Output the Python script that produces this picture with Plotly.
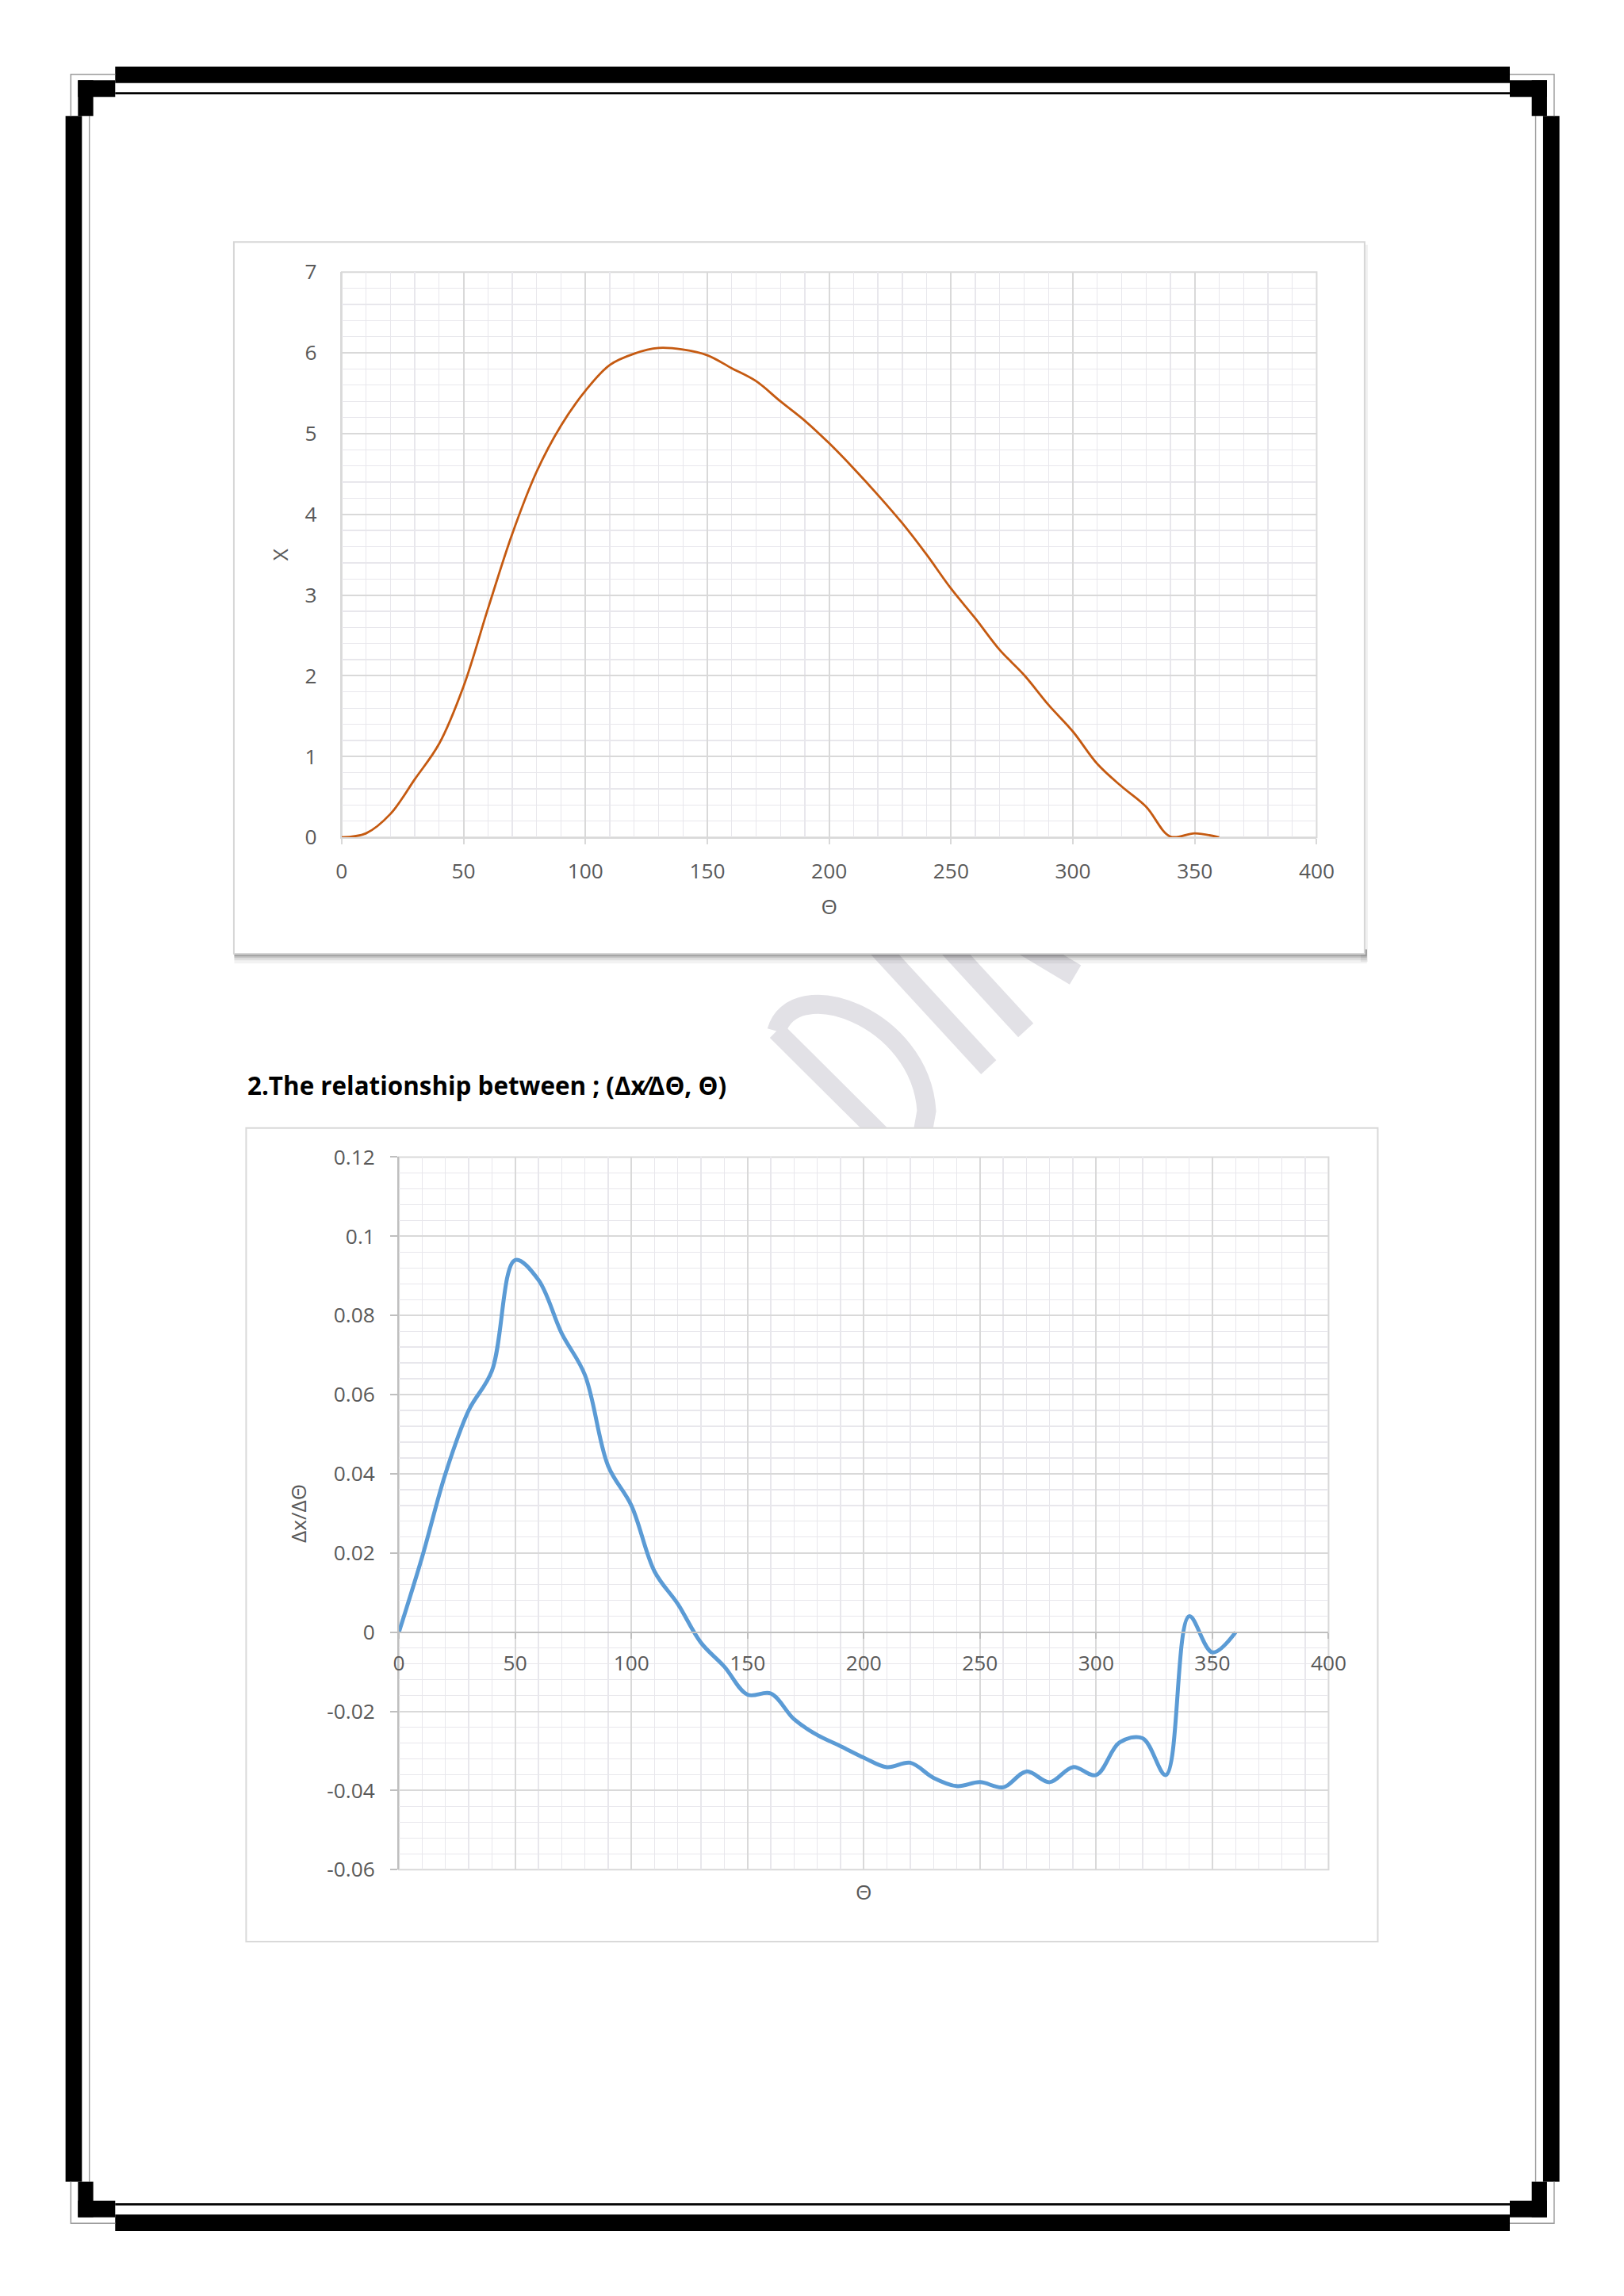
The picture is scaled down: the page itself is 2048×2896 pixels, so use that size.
import plotly.graph_objects as go

# ---------------- data ----------------
theta = [0, 10, 20, 30, 40, 50, 60, 70, 80, 90, 100, 110, 120, 130, 140, 150, 160, 170, 180,
         190, 200, 210, 220, 230, 240, 250, 260, 270, 280, 290, 300, 310, 320, 330, 340, 350, 360]

x_disp = [0, 0.05, 0.29, 0.72, 1.16, 1.87, 2.83, 3.76, 4.53, 5.10, 5.53, 5.85, 5.99, 6.06, 6.04,
          5.97, 5.81, 5.65, 5.40, 5.16, 4.88, 4.57, 4.24, 3.89, 3.50, 3.08, 2.71, 2.32, 2.01,
          1.64, 1.31, 0.91, 0.63, 0.38, 0.01, 0.05, 0.0]

dx_dtheta = [0, 0.019, 0.040, 0.056, 0.066, 0.094, 0.089, 0.0755, 0.065, 0.042, 0.032, 0.0153,
             0.0071, -0.0027, -0.0087, -0.0158, -0.0155, -0.022, -0.026, -0.0288, -0.0317,
             -0.0341, -0.033, -0.0368, -0.0389, -0.0379, -0.0392, -0.0352, -0.0379, -0.0341,
             -0.0361, -0.0279, -0.0268, -0.0361, 0.0040, -0.0051, 0.0]

x_tickvals = [0, 50, 100, 150, 200, 250, 300, 350, 400]
y1_tickvals = [0, 1, 2, 3, 4, 5, 6, 7]
y2_tickvals = [0.12, 0.1, 0.08, 0.06, 0.04, 0.02, 0, -0.02, -0.04, -0.06]
y2_ticktext = ["0.12", "0.1", "0.08", "0.06", "0.04", "0.02", "0", "-0.02", "-0.04", "-0.06"]

x_title = "Θ"
y1_title = "X"
y2_title = "Δx/ΔΘ"
heading = "2.The relationship between ; (Δx⁄ΔΘ, Θ)"

# ---------------- page geometry (pixels of the 2048x2896 page) ----------------
PAGE_W, PAGE_H = 2048, 2896
OFF = 8                      # default body margin of the page
FW, FH = PAGE_W - 2 * OFF, PAGE_H - 2 * OFF
AX, BX = 0.9858, 6.4         # measured capture mapping of the rendering pipeline
AY = 0.989
BY = (1 - AY) * PAGE_H / 2
S = 1 / 0.988                # size compensation for fonts


def fx(p):
    return ((p - BX) / AX - OFF) / FW


def fy(p):
    return 1 - ((p - BY) / AY - OFF) / FH


# plot areas (page pixels)
L1, R1, T1, B1 = 429.6, 1660.5, 340.5, 1054.6
L2, R2, T2, B2 = 501.9, 1675.5, 1458.5, 2358.6
Y2MIN, Y2MAX = -0.06, 0.12

TICK_FONT = dict(family="Open Sans", size=26 * S, color="#595959")
GRID = "#d9d9d9"
MINOR = "#e8e7ec"

fig = go.Figure()
fig.add_trace(go.Scatter(
    x=theta, y=x_disp, mode="lines", xaxis="x", yaxis="y",
    line=dict(color="#C55A11", width=2.8, shape="spline", smoothing=1.0),
    hoverinfo="skip"))
fig.add_trace(go.Scatter(
    x=theta, y=dx_dtheta, mode="lines", xaxis="x2", yaxis="y2",
    line=dict(color="#5B9BD5", width=5, shape="spline", smoothing=1.0),
    hoverinfo="skip"))

zero_pos = fy(B2) + (0 - Y2MIN) / (Y2MAX - Y2MIN) * (fy(T2) - fy(B2))

fig.update_layout(
    width=FW, height=FH,
    margin=dict(l=0, r=0, t=0, b=0),
    paper_bgcolor="white", plot_bgcolor="white",
    showlegend=False,
    xaxis=dict(
        domain=[fx(L1), fx(R1)], range=[0, 400], anchor="y",
        tickmode="array", tickvals=x_tickvals, tickfont=TICK_FONT,
        showgrid=True, gridcolor=GRID, gridwidth=2,
        minor=dict(dtick=10, tick0=0, showgrid=True, gridcolor=MINOR, gridwidth=1.3),
        showline=True, linecolor=GRID, linewidth=2,
        ticks="outside", ticklen=7, tickwidth=2, tickcolor=GRID,
        ticklabelstandoff=11, zeroline=False,
        title=dict(text=x_title, font=TICK_FONT, standoff=20),
    ),
    yaxis=dict(
        domain=[fy(B1), fy(T1)], range=[0, 7], anchor="x",
        tickmode="array", tickvals=y1_tickvals, tickfont=TICK_FONT,
        showgrid=True, gridcolor=GRID, gridwidth=2,
        minor=dict(dtick=0.2, tick0=0, showgrid=True, gridcolor=MINOR, gridwidth=1.3),
        showline=True, linecolor=GRID, linewidth=2,
        ticks="", ticklabelstandoff=24, zeroline=False,
        title=dict(text=y1_title, font=TICK_FONT, standoff=13),
    ),
    xaxis2=dict(
        domain=[fx(L2), fx(R2)], range=[0, 400], anchor="free", position=zero_pos,
        tickmode="array", tickvals=x_tickvals, tickfont=TICK_FONT,
        showgrid=True, gridcolor=GRID, gridwidth=2,
        minor=dict(dtick=10, tick0=0, showgrid=True, gridcolor=MINOR, gridwidth=1.3),
        showline=True, linecolor="#bfbfbf", linewidth=2,
        ticks="outside", ticklen=7, tickwidth=2, tickcolor="#bfbfbf",
        ticklabelstandoff=9, zeroline=False,
    ),
    yaxis2=dict(
        domain=[fy(B2), fy(T2)], range=[Y2MIN, Y2MAX], anchor="x2",
        tickmode="array", tickvals=y2_tickvals, ticktext=y2_ticktext, tickfont=TICK_FONT,
        showgrid=True, gridcolor=GRID, gridwidth=2,
        minor=dict(tickmode="linear", dtick=0.004, tick0=0, showgrid=True,
                   gridcolor=MINOR, gridwidth=1.3),
        showline=True, linecolor="#bfbfbf", linewidth=2,
        ticks="outside", ticklen=9, tickwidth=2, tickcolor="#bfbfbf",
        ticklabelstandoff=14, zeroline=False,
        title=dict(text=y2_title, font=TICK_FONT, standoff=18),
    ),
)

shapes = []


def rect(x0, y0, x1, y1, fill=None, line_color=None, line_width=0, layer="below", opacity=1.0):
    d = dict(type="rect", xref="paper", yref="paper",
             x0=fx(x0), x1=fx(x1), y0=fy(y1), y1=fy(y0), layer=layer, opacity=opacity)
    d["fillcolor"] = fill if fill else "rgba(0,0,0,0)"
    d["line"] = dict(color=line_color if line_color else "rgba(0,0,0,0)", width=line_width)
    return d


def pt(x, y):
    return f"{fx(x):.6f},{fy(y):.6f}"


def path(pts, color, width, layer="below"):
    p = "M " + " L ".join(pt(x, y) for x, y in pts)
    return dict(type="path", xref="paper", yref="paper", path=p, layer=layer,
                line=dict(color=color, width=width))


# --- faint watermark (mostly hidden behind the chart frames) ---
WM = "#e2e1e6"
d_bowl = ("M " + pt(978.6, 1299.3) + " C " + pt(1000, 1225) + " " + pt(1160, 1280) + " "
          + pt(1168, 1400) + " L " + pt(1160, 1445))
shapes.append(dict(type="path", xref="paper", yref="paper", path=d_bowl, layer="below",
                   line=dict(color=WM, width=24)))
shapes.append(path([(978.6, 1299.3), (1120, 1440)], WM, 24))
shapes.append(path([(1090, 1175), (1246.4, 1345)], WM, 26))
shapes.append(path([(1180, 1175), (1293.3, 1298.3)], WM, 26))
shapes.append(path([(1250, 1165), (1355.8, 1228.3)], WM, 28))

# --- shadow of the first chart frame ---
for y_end, op in [(1214, 0.05), (1210, 0.08), (1207, 0.12), (1205, 0.15)]:
    shapes.append(rect(294, 1196, 1724, y_end, fill="#000000", opacity=op))
shapes.append(rect(1716, 306, 1725, 1212, fill="#000000", opacity=0.06))

# --- chart frames ---
shapes.append(rect(293.5, 302.6, 1721, 1201.7, fill="white", line_color="#d6d6d6", line_width=2))
shapes.append(rect(309, 1421.6, 1737.6, 2449.5, fill="white", line_color="#d9d9d9", line_width=2))

# --- plot-area borders ---
for xr, yr in [("x", "y"), ("x2", "y2")]:
    shapes.append(dict(type="rect", xref=f"{xr} domain", yref=f"{yr} domain",
                       x0=0, x1=1, y0=0, y1=1, layer="below",
                       line=dict(color=GRID, width=2), fillcolor="rgba(0,0,0,0)"))

# --- decorative page border ---
for (x0, y0, x1, y1) in [(143.7, 81, 1904.3, 101.7), (143.7, 2794.3, 1904.3, 2815),
                         (81, 143.3, 101.7, 2752.7), (1946.3, 143.3, 1967, 2752.7),
                         (143.7, 113.3, 1904.3, 116), (143.7, 2780, 1904.3, 2782.7)]:
    shapes.append(rect(x0, y0, x1, y1, fill="black", layer="above"))
for (x0, x1) in [(110.4, 111.8), (1936.2, 1937.6)]:
    shapes.append(rect(x0, 143.3, x1, 2752.7, fill="#9a9a9a", layer="above"))

corner_blocks = [(96.7, 98.3, 143.7, 119.3), (96.7, 98.3, 116, 143.3)]
corner_outline = [(87.7, 143.3), (87.7, 90.7), (143.7, 90.7)]
for mx in (False, True):
    for my in (False, True):
        def tx(v):
            return PAGE_W - v if mx else v

        def ty(v):
            return PAGE_H - v if my else v
        for (x0, y0, x1, y1) in corner_blocks:
            xa, xb = sorted([tx(x0), tx(x1)])
            ya, yb = sorted([ty(y0), ty(y1)])
            shapes.append(rect(xa, ya, xb, yb, fill="black", layer="above"))
        shapes.append(path([(tx(x), ty(y)) for x, y in corner_outline], "#9a9a9a", 1.5, layer="above"))

fig.update_layout(shapes=shapes)

fig.add_annotation(text=heading, x=fx(309), y=fy(1367), xref="paper", yref="paper",
                   xanchor="left", yanchor="middle", showarrow=False,
                   font=dict(family="Open Sans", size=31 * S, color="black", weight="bold"))
fig.add_annotation(text=x_title, x=fx(1088.8), y=fy(2386), xref="paper", yref="paper",
                   xanchor="center", yanchor="middle", showarrow=False, font=TICK_FONT)

fig.write_html("out.html", config={"displayModeBar": False, "staticPlot": True})
